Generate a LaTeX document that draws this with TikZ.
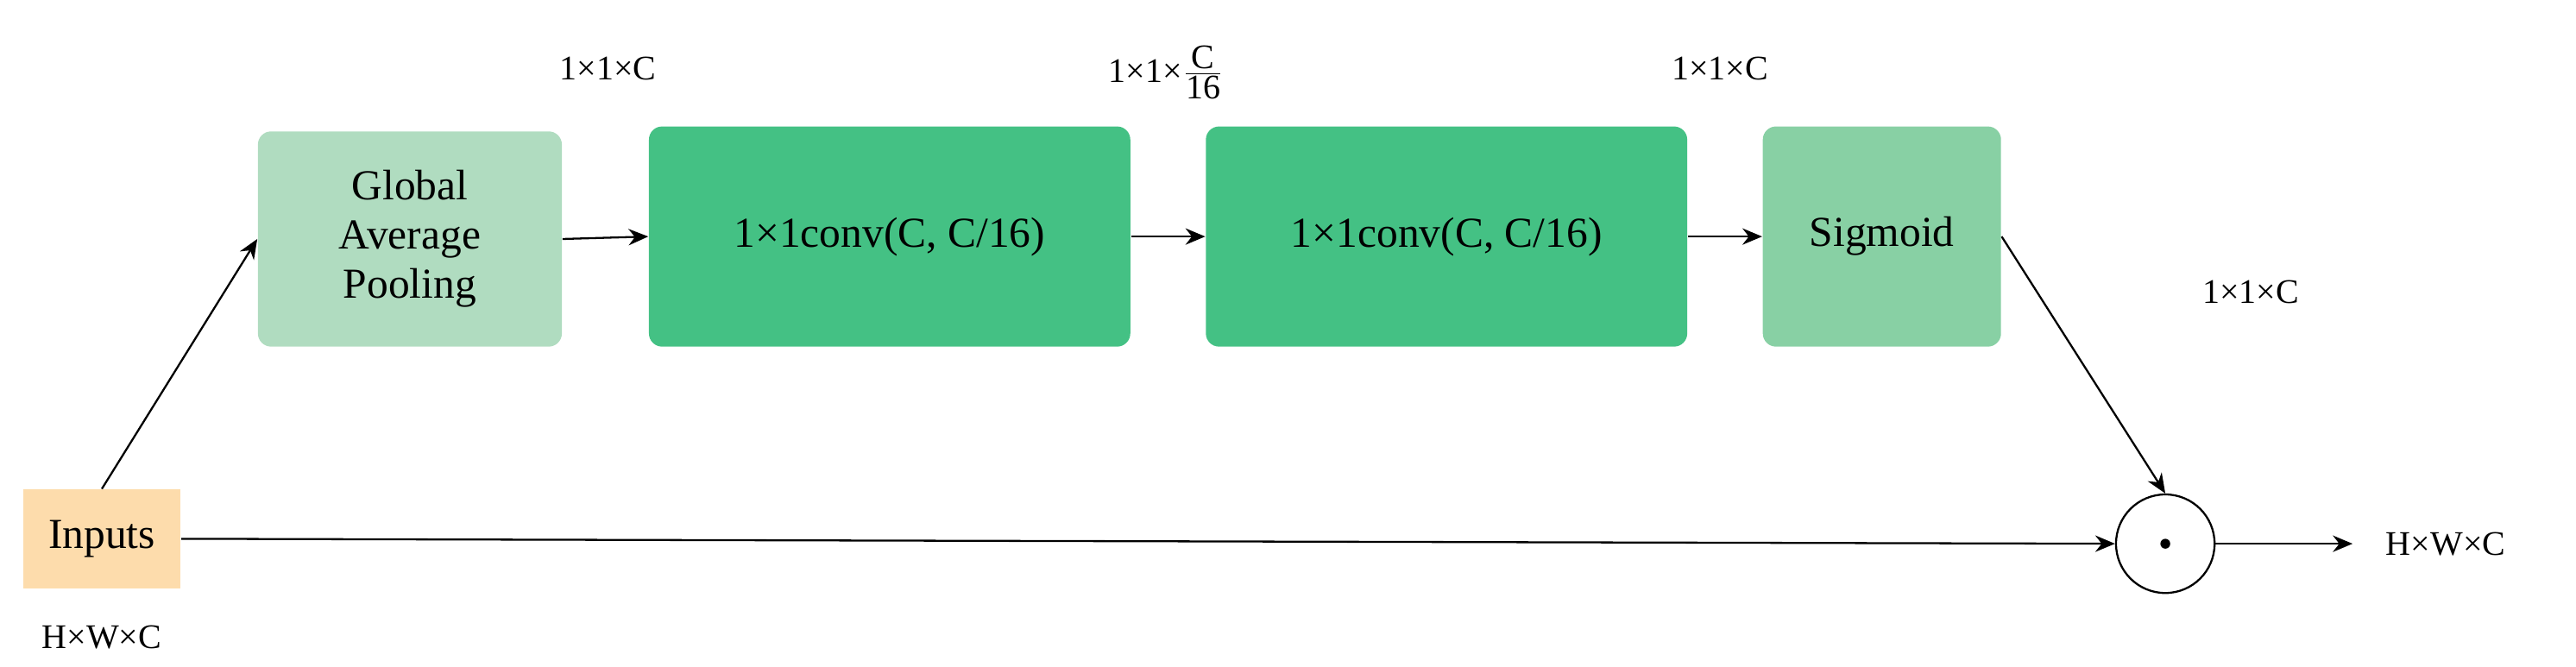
\documentclass[tikz,border=0pt]{standalone}
\usepackage{fontspec}
\setmainfont{Liberation Serif}
\usetikzlibrary{arrows.meta}
\definecolor{gapc}{HTML}{B0DCC0}
\definecolor{convc}{HTML}{44C184}
\definecolor{sigc}{HTML}{88D0A4}
\definecolor{inc}{HTML}{FDDCAC}
\begin{document}
\begin{tikzpicture}[x=0.5pt,y=-0.5pt,
  box/.style={rounded corners=4pt,inner sep=0pt,font=\fontsize{13}{15}\selectfont,align=center},
  lab/.style={font=\fontsize{10.5}{12}\selectfont,inner sep=0pt},
  arr/.style={-{Stealth[length=6pt,width=5pt]},line width=0.6pt}]
\useasboundingbox (0,0) rectangle (1568,406);
\node[box,fill=gapc,minimum width=92.5pt,minimum height=65.5pt] (gap) at (249.5,145.5) {Global\\Average\\Pooling};
\node[box,fill=convc,minimum width=146.5pt,minimum height=67pt] (c1) at (541.5,144) {1×1conv(C, C/16)};
\node[box,fill=convc,minimum width=146.5pt,minimum height=67pt] (c2) at (880.5,144) {1×1conv(C, C/16)};
\node[box,fill=sigc,minimum width=72.5pt,minimum height=67pt] (sig) at (1145.5,144) {Sigmoid};
\node[fill=inc,minimum width=48pt,minimum height=30pt,inner sep=0pt,font=\fontsize{13}{15}\selectfont] (in) at (62,328) {Inputs};
\node[circle,draw,line width=0.6pt,minimum size=30pt,inner sep=0pt] (dot) at (1318,331) {};
\fill (dot.center) circle (1.5pt);
\coordinate (out) at (1432,331);
\node[lab] (l1) at (370,42) {1×1×C};
\node[lab] (l2) at (710,44) {1×1×$\frac{\textrm{C}}{\textrm{16}}$};
\node[lab] (l3) at (1047,42) {1×1×C};
\node[lab] (l4) at (1370,178) {1×1×C};
\node[lab,anchor=west] (l5) at (1452,331) {H×W×C};
\node[lab] (l6) at (62,388) {H×W×C};
\draw[arr] (gap.east) -- (c1.west);
\draw[arr] (c1.east) -- (c2.west);
\draw[arr] (c2.east) -- (sig.east -| sig.west);
\draw[arr] (in.north) -- (gap.west);
\draw[arr] (sig.east) -- (dot.north);
\draw[arr] (in.east) -- (dot.west);
\draw[arr] (dot.east) -- (out);
\end{tikzpicture}
\end{document}
